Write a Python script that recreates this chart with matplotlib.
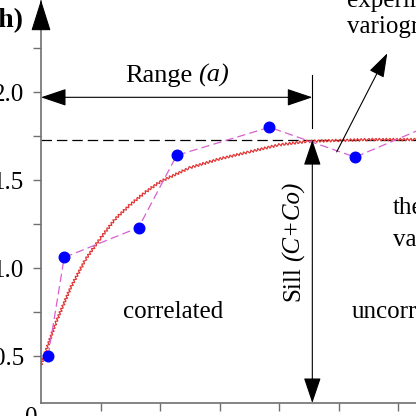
import matplotlib
matplotlib.use("Agg")
import matplotlib.pyplot as plt
from matplotlib.patches import FancyArrowPatch

# experimental variogram (lag, semivariance) - last point lies past the crop
lag = [0.12, 0.39, 1.64, 2.28, 3.84, 5.28, 6.60]
gamma_exp = [0.50, 1.06, 1.23, 1.64, 1.80, 1.63, 1.82]

# theoretical model
lag_model = [0.0, 0.25, 0.5, 0.75, 1.0, 1.25, 1.5, 1.75, 2.0, 2.5, 3.0,
             3.5, 4.0, 4.5, 5.0, 5.5, 6.3]
gamma_model = [0.45, 0.69, 0.89, 1.05, 1.17, 1.28, 1.36, 1.43, 1.49, 1.57,
               1.62, 1.66, 1.70, 1.72, 1.725, 1.73, 1.73]

sill = 1.727
range_a = 4.56
yticks = [0.5, 1.0, 1.5, 2.0]
yticks_minor = [0.75, 1.25, 1.75, 2.25]
xticks = [1, 2, 3, 4, 5, 6]

plt.rcParams["font.family"] = ["Liberation Serif", "DejaVu Serif"]
plt.rcParams["lines.scale_dashes"] = False

fig = plt.figure(figsize=(4.16, 4.16), dpi=100)
ax = fig.add_axes([41 / 416, 13 / 416, 375 / 416, 403 / 416])
ax.set_xlim(0, 375 / 59.5)
ax.set_ylim(0.233, 2.523)

for s in ("top", "right"):
    ax.spines[s].set_visible(False)
for s in ("left", "bottom"):
    ax.spines[s].set_color("#707070")
    ax.spines[s].set_linewidth(1.2)

ax.set_yticks(yticks)
ax.set_yticklabels([f"{v:.1f}" for v in yticks])
ax.set_yticks(yticks_minor, minor=True)
ax.set_xticks(xticks)
ax.set_xticklabels([])
ax.tick_params(axis="both", which="both", direction="out", length=6,
               width=1, color="#707070", labelsize=18, pad=6)

# sill reference line
ax.axhline(sill, color="black", lw=0.9, ls=(0, (7.5, 3.6)), zorder=2)

# model curve with the rippled look
model_line, = ax.plot(lag_model, gamma_model, color="#e03535", lw=0.9, zorder=3)
model_line.set_sketch_params(scale=1.3, length=3.5, randomness=1.0)

# experimental variogram
ax.plot(lag, gamma_exp, color="#d860d0", lw=0.9, ls=(0, (6, 3)), zorder=4)
ax.plot(lag, gamma_exp, "o", color="#0000ff", ms=7.6, mec="#0000ff", zorder=5)


def arrow(p0, p1, style, coords=None, **kw):
    a = FancyArrowPatch(p0, p1, arrowstyle=style, mutation_scale=1,
                        shrinkA=0, shrinkB=0, color="black", lw=0.8,
                        clip_on=False, zorder=6, **kw)
    if coords is not None:
        a.set_transform(coords)
    ax.add_patch(a)


head = "head_length=16,head_width=5.4"
# range arrow and its end marker
arrow((0, 1.97), (range_a, 1.97), "<|-|>," + head)
ax.plot([range_a, range_a], [2.097, 1.795], color="black", lw=0.8, zorder=6)
# sill arrow
arrow((range_a, sill), (range_a, 0.233), "<|-|>," + head)
# pointer to experimental variogram label
arrow((4.97, 1.66), (5.82, 2.22), "-|>,head_length=15,head_width=5")
# y axis arrow head
arrow((0, 0.93), (0, 1.0), "-|>,head_length=20,head_width=6.3",
      coords=ax.transAxes)

t = ax.text(1.41, 2.057, "Range", fontsize=19, va="baseline", ha="left")
ax.annotate("(a)", xy=(1, 0), xycoords=t, xytext=(4, 0),
            textcoords="offset points", fontsize=19, style="italic",
            va="bottom", ha="left")

s1 = ax.text(4.24, 0.81, "Sill", fontsize=18, rotation=90,
             ha="center", va="bottom")
ax.annotate("(C+Co)", xy=(0.5, 1), xycoords=s1, xytext=(0, 4),
            textcoords="offset points", fontsize=18, style="italic",
            rotation=90, ha="center", va="bottom")

ax.text(1.38, 0.716, "correlated", fontsize=18, va="baseline", ha="left")
ax.text(5.23, 0.716, "uncorrelated", fontsize=18, va="baseline", ha="left",
        clip_on=True)
ax.text(5.92, 1.307, "theoretical", fontsize=18, va="baseline", ha="left",
        clip_on=True)
ax.text(5.92, 1.125, "variogram", fontsize=18, va="baseline", ha="left",
        clip_on=True)
ax.text(5.14, 2.483, "experimental", fontsize=18, va="baseline", ha="left",
        clip_on=True)
ax.text(5.14, 2.335, "variogram", fontsize=18, va="baseline", ha="left",
        clip_on=True)

ax.annotate("γ(h)", xy=(0, 1), xycoords="axes fraction", xytext=(-13, -19.5),
            textcoords="offset points", fontsize=20, fontweight="bold",
            ha="right", va="baseline", annotation_clip=False)
ax.annotate("0", xy=(0, 0), xycoords="axes fraction", xytext=(-7.2, -3),
            textcoords="offset points", fontsize=18, ha="center", va="top",
            annotation_clip=False)

fig.savefig("out.png", dpi=100)
